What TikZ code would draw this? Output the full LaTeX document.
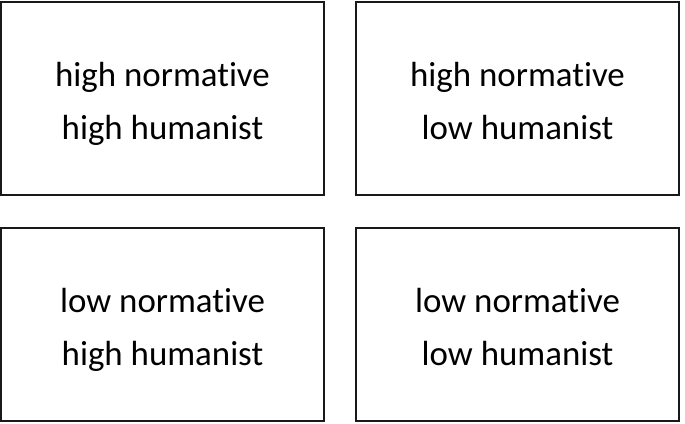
\documentclass[tikz,border=0pt]{standalone}
\usepackage{fontspec}
\setmainfont[Ligatures=NoCommon]{Carlito}
\newcommand{\lnstrut}{\rule[-11.5pt]{0pt}{51.5pt}}
\begin{document}
\begin{tikzpicture}[x=1pt,y=-1pt,
  quad/.style={draw=black!90,line width=2.2pt,minimum width=323pt,minimum height=193pt,inner sep=0pt,
    align=center,font=\fontsize{34.9}{52.5}\selectfont}]
\useasboundingbox (0,0) rectangle (685,423);
\node[quad] (a) at (162.5,98.5) {\lnstrut high normative\\\lnstrut high humanist};
\node[quad] (b) at (517.5,98.5) {\lnstrut high normative\\\lnstrut low humanist};
\node[quad] (c) at (162.5,324.5) {\lnstrut low normative\\\lnstrut high humanist};
\node[quad] (d) at (517.5,324.5) {\lnstrut low normative\\\lnstrut low humanist};
\end{tikzpicture}
\end{document}
